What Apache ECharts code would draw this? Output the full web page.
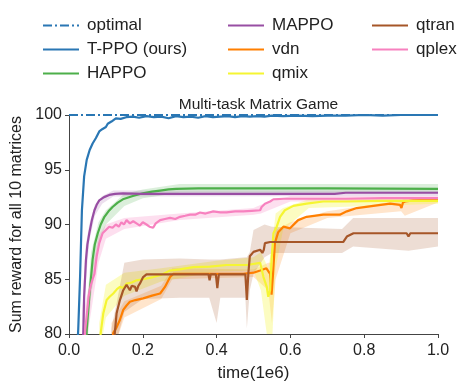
<!DOCTYPE html>
<html>
<head>
<meta charset="utf-8">
<script src="https://cdn.jsdelivr.net/npm/echarts@6/dist/echarts.min.js"></script>
<style>
html,body{margin:0;padding:0;background:#fff;}
#chart{width:474px;height:391px;}
</style>
</head>
<body>
<div id="chart"></div>
<script>
// ---------- data (x in units of 1e6 steps) ----------
const xTicks = [0.0, 0.2, 0.4, 0.6, 0.8, 1.0];
const yTicks = [80, 85, 90, 95, 100];

const optimalT = [0, 1];
const optimalV = [100, 100];

const tppoT = [0.02, 0.025, 0.03, 0.035, 0.041, 0.048, 0.056, 0.064, 0.073, 0.082, 0.09, 0.1, 0.105, 0.115, 0.127, 0.14, 0.155, 0.173, 0.19, 0.21, 0.23, 0.25, 0.27, 0.29, 0.31, 0.33, 0.35, 0.37, 0.39, 0.41, 0.43, 0.45, 0.47, 0.49, 0.51, 0.53, 0.55, 0.58, 0.62, 0.66, 0.7, 0.75, 0.8, 0.85, 0.9, 0.95, 1.0];
const tppoV = [77, 80.4, 85.2, 91.3, 94.4, 95.9, 96.8, 97.4, 97.9, 98.5, 98.7, 98.9, 99.2, 99.4, 99.7, 99.65, 99.8, 99.85, 99.75, 99.9, 99.8, 99.85, 99.7, 99.9, 99.8, 99.85, 99.75, 99.9, 99.8, 99.85, 99.9, 99.8, 99.9, 99.85, 99.9, 99.85, 99.95, 99.9, 99.95, 99.9, 99.95, 99.95, 100, 99.95, 100, 100, 100];

const happoT = [0.045, 0.048, 0.055, 0.064, 0.07, 0.078, 0.086, 0.096, 0.107, 0.118, 0.132, 0.146, 0.173, 0.2, 0.225, 0.247, 0.27, 0.29, 0.35, 0.5, 0.7, 1.0];
const happoV = [77, 80.4, 83.4, 86.8, 88.2, 89.2, 90.0, 90.7, 91.2, 91.6, 92.0, 92.3, 92.6, 92.85, 93.0, 93.1, 93.2, 93.25, 93.3, 93.3, 93.3, 93.25];
const happoBandT  = [0.045, 0.06, 0.08, 0.1, 0.15, 0.2, 0.3, 1.0];
const happoBandLo = [77, 83.5, 88.0, 90.0, 91.7, 92.4, 92.9, 92.9];
const happoBandHi = [81, 87.5, 90.2, 91.3, 92.8, 93.2, 93.7, 93.7];

const mappoT = [0.036, 0.039, 0.041, 0.046, 0.05, 0.055, 0.062, 0.069, 0.075, 0.082, 0.095, 0.109, 0.125, 0.146, 0.2, 0.4, 0.6, 0.72, 0.75, 1.0];
const mappoV = [77, 80.4, 83.4, 86.8, 88.2, 89.2, 90.4, 91.3, 91.8, 92.2, 92.5, 92.7, 92.8, 92.85, 92.8, 92.8, 92.8, 92.8, 92.9, 92.9];
const mappoBandT  = [0.036, 0.045, 0.055, 0.07, 0.09, 0.12, 1.0];
const mappoBandLo = [77, 84.5, 88.5, 90.8, 91.9, 92.55, 92.6];
const mappoBandHi = [82, 88.0, 90.0, 91.8, 92.6, 93.1, 93.1];

const vdnT = [0.115, 0.12, 0.129, 0.138, 0.147, 0.156, 0.165, 0.18, 0.201, 0.225, 0.247, 0.26, 0.274, 0.283, 0.3, 0.38, 0.472, 0.5, 0.518, 0.535, 0.545, 0.549, 0.553, 0.558, 0.567, 0.581, 0.599, 0.621, 0.644, 0.689, 0.734, 0.753, 0.78, 0.825, 0.87, 0.897, 0.901, 0.905, 0.911, 0.933, 1.0];
const vdnV = [78, 80.1, 80.6, 81.3, 82.2, 82.6, 82.95, 83.1, 83.25, 83.5, 83.7, 84.3, 85.2, 85.5, 85.5, 85.5, 85.5, 85.6, 85.8, 86.0, 85.5, 83.6, 85.5, 88.3, 89.3, 89.8, 89.65, 90.4, 90.7, 90.9, 90.9, 91.2, 91.5, 91.7, 91.9, 91.8, 91.5, 92.0, 92.1, 92.2, 92.3];
const vdnBandT  = [0.115, 0.15, 0.25, 0.28, 0.5, 0.54, 0.55, 0.56, 0.6, 0.7, 0.9, 0.91, 1.0];
const vdnBandLo = [78, 81.5, 83.2, 85.0, 85.2, 84.0, 81.0, 85.0, 89.2, 90.6, 91.2, 90.8, 92.0];
const vdnBandHi = [81, 83.0, 84.4, 86.0, 85.9, 86.5, 86.5, 89.5, 90.2, 91.2, 92.2, 92.4, 92.5];

const qmixT = [0.082, 0.086, 0.093, 0.102, 0.11, 0.12, 0.13, 0.138, 0.147, 0.156, 0.17, 0.183, 0.2, 0.228, 0.25, 0.274, 0.3, 0.337, 0.382, 0.427, 0.482, 0.518, 0.527, 0.536, 0.54, 0.545, 0.549, 0.554, 0.563, 0.572, 0.585, 0.608, 0.644, 0.689, 0.75, 0.85, 1.0];
const qmixV = [78, 80.1, 81.9, 83.1, 83.4, 83.7, 84.1, 84.3, 84.2, 84.6, 84.7, 84.9, 85.0, 85.2, 85.4, 85.8, 85.9, 86.1, 86.15, 86.3, 86.3, 86.5, 85.2, 84.3, 83.4, 84.0, 86.8, 89.2, 89.8, 90.7, 91.3, 91.7, 91.9, 92.1, 92.1, 92.15, 92.15];
const qmixBandT  = [0.082, 0.1, 0.15, 0.25, 0.4, 0.5, 0.52, 0.54, 0.55, 0.56, 0.58, 0.65, 1.0];
const qmixBandLo = [78, 81.5, 83.5, 84.8, 85.7, 85.8, 84.0, 79.0, 79.0, 86.0, 89.5, 91.5, 91.9];
const qmixBandHi = [81, 84.5, 85.6, 86.0, 86.7, 87.0, 87.5, 86.0, 88.0, 91.0, 91.5, 92.3, 92.4];

const qtranT = [0.118, 0.125, 0.129, 0.138, 0.147, 0.156, 0.161, 0.165, 0.17, 0.174, 0.179, 0.183, 0.188, 0.192, 0.201, 0.21, 0.3, 0.378, 0.381, 0.384, 0.398, 0.402, 0.406, 0.478, 0.482, 0.486, 0.49, 0.5, 0.518, 0.524, 0.528, 0.531, 0.545, 0.743, 0.753, 0.771, 0.915, 0.92, 0.925, 1.0];
const qtranV = [78, 80.4, 81.9, 83.1, 84.0, 84.5, 84.6, 84.0, 84.4, 84.5, 84.3, 83.9, 84.4, 84.6, 85.2, 85.45, 85.45, 85.45, 84.9, 85.45, 85.45, 84.2, 85.45, 85.45, 83.1, 85.5, 87.1, 87.5, 87.7, 87.4, 87.7, 88.3, 88.4, 88.4, 88.9, 89.2, 89.2, 88.9, 89.2, 89.2];
const qtranBandT  = [0.115, 0.13, 0.15, 0.2, 0.3, 0.38, 0.4, 0.41, 0.478, 0.482, 0.49, 0.5, 0.53, 0.55, 0.74, 0.77, 0.92, 1.0];
const qtranBandLo = [78, 79.5, 82.0, 83.2, 83.3, 83.3, 81.0, 83.3, 83.3, 80.5, 84.0, 85.5, 87.0, 87.4, 87.4, 88.0, 87.6, 88.0];
const qtranBandHi = [80.5, 83.0, 86.5, 86.8, 86.9, 86.8, 86.8, 86.8, 87.0, 87.0, 87.5, 89.5, 90.0, 89.8, 89.6, 90.6, 90.6, 90.6];

const qplexT = [0.04, 0.044, 0.049, 0.053, 0.058, 0.064, 0.069, 0.075, 0.082, 0.087, 0.091, 0.1, 0.109, 0.118, 0.127, 0.135, 0.142, 0.149, 0.156, 0.165, 0.174, 0.183, 0.192, 0.2, 0.21, 0.218, 0.228, 0.235, 0.247, 0.26, 0.274, 0.288, 0.301, 0.315, 0.328, 0.342, 0.355, 0.37, 0.391, 0.41, 0.427, 0.45, 0.472, 0.495, 0.518, 0.522, 0.531, 0.545, 0.554, 0.581, 0.65, 0.75, 0.85, 1.0];
const qplexV = [78, 80.4, 82.0, 83.4, 84.3, 85.0, 85.5, 87.1, 88.3, 88.8, 89.2, 89.5, 89.8, 89.7, 90.0, 89.8, 90.2, 90.0, 90.4, 90.1, 90.3, 90.1, 89.9, 90.2, 90.0, 89.8, 89.7, 90.1, 90.4, 90.5, 90.6, 90.5, 90.7, 90.8, 90.9, 90.9, 91.1, 91.0, 91.2, 91.1, 91.1, 91.2, 91.2, 91.25, 91.3, 91.6, 91.9, 92.1, 92.3, 92.35, 92.35, 92.35, 92.4, 92.4];
const qplexBandT  = [0.04, 0.06, 0.08, 0.1, 0.15, 0.3, 0.5, 0.52, 0.6, 1.0];
const qplexBandLo = [78, 82.0, 86.5, 88.7, 89.6, 90.4, 90.9, 91.0, 92.1, 92.15];
const qplexBandHi = [82, 85.5, 89.0, 90.0, 90.6, 91.0, 91.5, 91.8, 92.6, 92.6];

const colors = {
  optimal: '#2a77b4', tppo: '#2a77b4', happo: '#4daf4a', mappo: '#984ea3',
  vdn: '#ff7f00', qmix: '#f5f532', qtran: '#a65628', qplex: '#f781bf'
};

// ---------- helpers ----------
function zip(t, v) { return t.map((x, i) => [x, v[i]]); }

function lineSeries(name, t, v, color, extra) {
  return Object.assign({
    name: name, type: 'line', data: zip(t, v), symbol: 'none', showSymbol: false,
    clip: true, smooth: false, animation: false,
    lineStyle: { color: color, width: 2.2 }, itemStyle: { color: color }
  }, extra || {});
}

function bandSeries(t, lo, hi, color) {
  return {
    type: 'custom', coordinateSystem: 'cartesian2d', silent: true, animation: false,
    data: [[t[0], lo[0]]],
    renderItem: function (params, api) {
      const pts = [];
      for (let i = 0; i < t.length; i++) pts.push(api.coord([t[i], hi[i]]));
      for (let i = t.length - 1; i >= 0; i--) pts.push(api.coord([t[i], lo[i]]));
      const cs = params.coordSys;
      return {
        type: 'polygon', shape: { points: pts }, style: { fill: color },
        clipPath: { type: 'rect', shape: { x: cs.x, y: cs.y, width: cs.width, height: cs.height } }
      };
    }
  };
}

const FONT = 'Liberation Sans, Arial, sans-serif';
const legendCommon = {
  orient: 'vertical', itemWidth: 36, itemHeight: 14, itemGap: 7, top: 12,
  itemStyle: { opacity: 0 },
  textStyle: { fontSize: 17, color: '#222', fontFamily: FONT, padding: [0, 0, 0, 3], lineHeight: 17 }
};

const chart = echarts.init(document.getElementById('chart'), null, { renderer: 'canvas' });
chart.setOption({
  backgroundColor: '#fff',
  animation: false,
  textStyle: { fontFamily: FONT },
  title: {
    text: 'Multi-task Matrix Game', left: 253.5, top: 92, textAlign: 'center',
    textStyle: { fontSize: 15.5, fontWeight: 'normal', color: '#222', fontFamily: FONT }
  },
  legend: [
    Object.assign({}, legendCommon, { left: 37, data: ['optimal', 'T-PPO (ours)', 'HAPPO'] }),
    Object.assign({}, legendCommon, { left: 222, data: ['MAPPO', 'vdn', 'qmix'] }),
    Object.assign({}, legendCommon, { left: 366, data: ['qtran', 'qplex'] })
  ],
  grid: { left: 69, right: 36, top: 115, bottom: 57, containLabel: false },
  xAxis: {
    type: 'value', min: xTicks[0], max: xTicks[xTicks.length - 1], interval: 0.2,
    name: 'time(1e6)', nameLocation: 'middle', nameGap: 31,
    nameTextStyle: { fontSize: 17, color: '#222' },
    axisLine: { show: true, lineStyle: { color: '#444', width: 1 } },
    axisTick: { show: true, inside: false, length: 4, lineStyle: { color: '#444' } },
    axisLabel: { fontSize: 16, color: '#222', margin: 9, formatter: v => v.toFixed(1) },
    splitLine: { show: false }
  },
  yAxis: {
    type: 'value', min: yTicks[0], max: yTicks[yTicks.length - 1], interval: 5,
    name: 'Sum reward for all 10 matrices', nameLocation: 'middle', nameGap: 38,
    nameTextStyle: { fontSize: 16, color: '#222' },
    axisLine: { show: true, lineStyle: { color: '#444', width: 1 } },
    axisTick: { show: true, inside: false, length: 4, lineStyle: { color: '#444' } },
    axisLabel: { fontSize: 16, color: '#222', margin: 7 },
    splitLine: { show: false }
  },
  series: [
    lineSeries('optimal', optimalT, optimalV, colors.optimal, { lineStyle: { color: colors.optimal, width: 2.2, type: [9, 3, 2, 3] } }),
    lineSeries('T-PPO (ours)', tppoT, tppoV, colors.tppo),
    bandSeries(happoBandT, happoBandLo, happoBandHi, 'rgba(77,175,74,0.2)'),
    lineSeries('HAPPO', happoT, happoV, colors.happo),
    bandSeries(mappoBandT, mappoBandLo, mappoBandHi, 'rgba(152,78,163,0.18)'),
    lineSeries('MAPPO', mappoT, mappoV, colors.mappo),
    bandSeries(vdnBandT, vdnBandLo, vdnBandHi, 'rgba(255,127,0,0.2)'),
    lineSeries('vdn', vdnT, vdnV, colors.vdn),
    bandSeries(qmixBandT, qmixBandLo, qmixBandHi, 'rgba(245,245,50,0.3)'),
    lineSeries('qmix', qmixT, qmixV, colors.qmix),
    bandSeries(qtranBandT, qtranBandLo, qtranBandHi, 'rgba(166,86,40,0.2)'),
    lineSeries('qtran', qtranT, qtranV, colors.qtran),
    bandSeries(qplexBandT, qplexBandLo, qplexBandHi, 'rgba(247,129,191,0.25)'),
    lineSeries('qplex', qplexT, qplexV, colors.qplex)
  ]
});
</script>
</body>
</html>
